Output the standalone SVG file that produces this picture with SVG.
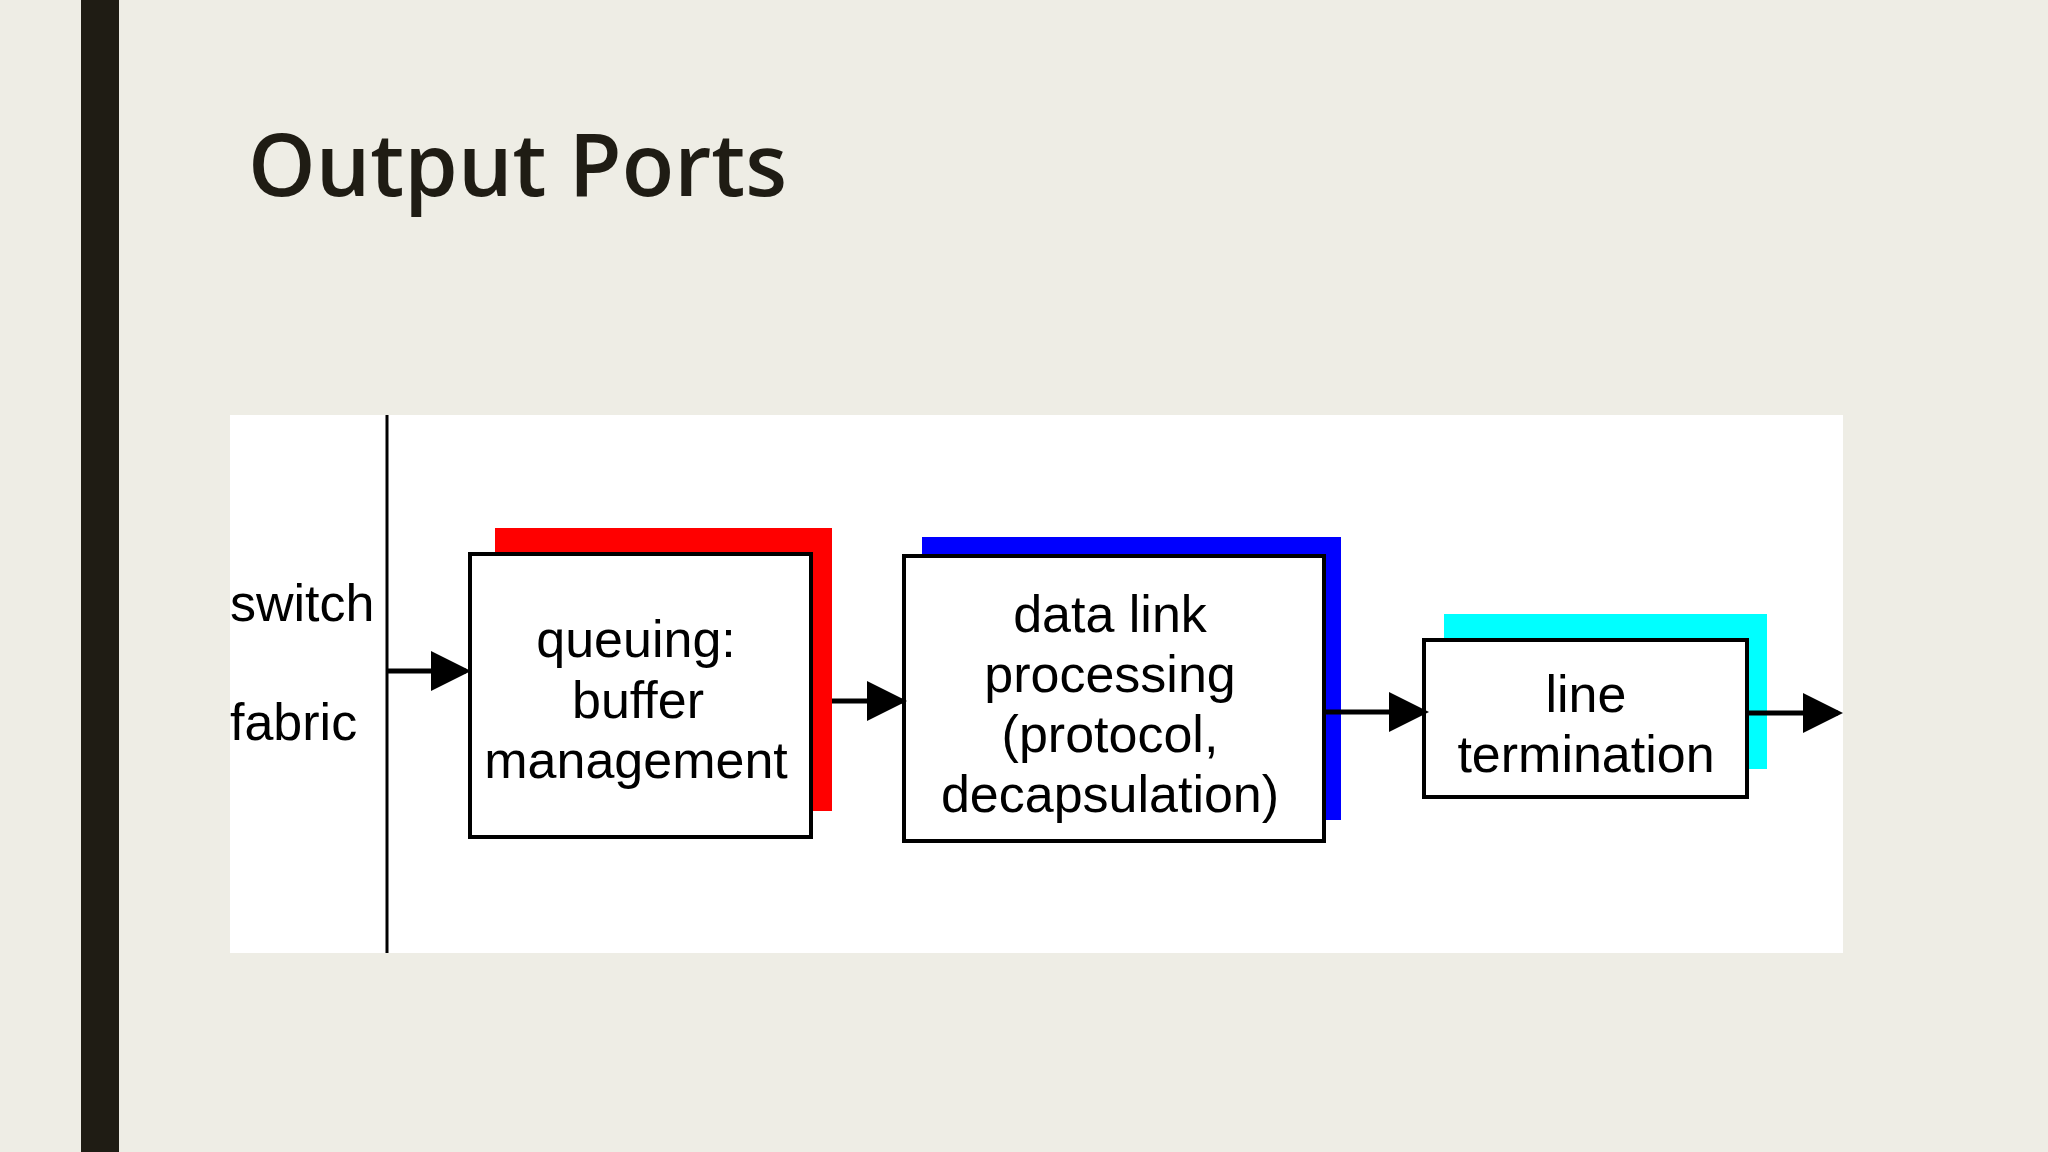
<svg xmlns="http://www.w3.org/2000/svg" width="2048" height="1152" viewBox="0 0 2048 1152">
<defs>
<style>
.t{font-family:"Liberation Sans",Arial,sans-serif;font-size:52px;fill:#000;text-anchor:middle}
.l{font-family:"Liberation Sans",Arial,sans-serif;font-size:52px;fill:#000}
.box{fill:#fff;stroke:#000;stroke-width:4}
.c{stroke:#000;stroke-width:5;fill:none;marker-end:url(#a)}
</style>
<marker id="a" markerWidth="8" markerHeight="8" refX="7" refY="4" orient="auto" markerUnits="strokeWidth"><path d="M0,0 L8,4 L0,8 Z" fill="#000"/></marker>
</defs>
<rect width="2048" height="1152" fill="#eeede5"/>
<rect x="81" y="0" width="38" height="1152" fill="#1f1c14"/>
<text x="248" y="196" font-family="Open Sans, sans-serif" font-weight="600" font-size="86" fill="#1f1c14">Output Ports</text>
<rect x="230" y="415" width="1613" height="538" fill="#fff"/>
<line x1="387" y1="415" x2="387" y2="953" stroke="#000" stroke-width="3"/>
<text class="l" x="230" y="621">switch</text>
<text class="l" x="230" y="740">fabric</text>
<g id="queuing">
<rect x="495" y="528" width="337" height="283" fill="#ff0000"/>
<rect class="box" x="470" y="554" width="341" height="283"/>
<text class="t" x="636" y="657">queuing:</text>
<text class="t" x="638" y="718">buffer</text>
<text class="t" x="636" y="778">management</text>
</g>
<g id="datalink">
<rect x="922" y="537" width="419" height="283" fill="#0000ff"/>
<rect class="box" x="904" y="556" width="420" height="285"/>
<text class="t" x="1110" y="632">data link</text>
<text class="t" x="1110" y="692">processing</text>
<text class="t" x="1110" y="752">(protocol,</text>
<text class="t" x="1110" y="812">decapsulation)</text>
</g>
<g id="line">
<rect x="1444" y="614" width="323" height="155" fill="#00ffff"/>
<rect class="box" x="1424" y="640" width="323" height="157"/>
<text class="t" x="1586" y="712">line</text>
<text class="t" x="1586" y="772">termination</text>
</g>
<g id="connectors">
<line class="c" x1="387" y1="671" x2="466" y2="671"/>
<line class="c" x1="832" y1="701" x2="902" y2="701"/>
<line class="c" x1="1324" y1="712" x2="1424" y2="712"/>
<line class="c" x1="1747" y1="713" x2="1838" y2="713"/>
</g>
</svg>
